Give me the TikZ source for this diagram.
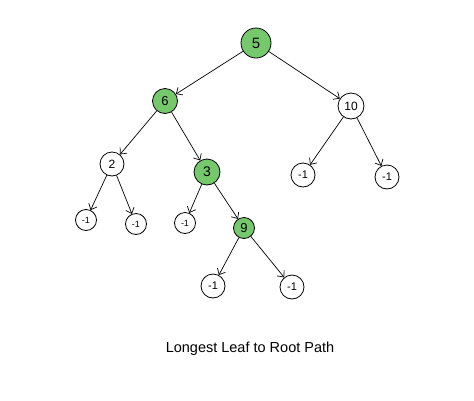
\documentclass[tikz,border=0pt]{standalone}
\usepackage{fontspec}
\setsansfont{Liberation Sans}
\usetikzlibrary{shapes,arrows.meta}
\definecolor{pathgreen}{RGB}{118,200,108}
\tikzset{%
	tnode/.style    	= {draw, circle, line width=0.8pt, inner sep=0pt, font=\sffamily\fontsize{12}{12}\selectfont}, % Tree node
	onpath/.style   	= {tnode, fill=pathgreen}, % Node of the longest path
	leaf/.style     	= {tnode, font=\sffamily\fontsize{11}{11}\selectfont}, % Empty child
	smallleaf/.style	= {tnode, minimum size=21pt, font=\sffamily\fontsize{9}{9}\selectfont} % Small empty child
}
\begin{document}
\begin{tikzpicture}[x=1pt, y=-1pt, line width=0.7pt, >={Straight Barb[length=5pt, width=9pt]}]
	\useasboundingbox (0,0) rectangle (474,400);
	\draw % Nodes of the tree :
	node at (256, 43) [onpath, minimum size=30pt, font=\sffamily\fontsize{15}{15}\selectfont] (root) {5}
	node at (165, 101) [onpath, minimum size=25pt, font=\sffamily\fontsize{13}{13}\selectfont] (six) {6}
	node at (351, 106) [tnode, minimum size=26pt] (ten) {10}
	node at (112, 164) [tnode, minimum size=24pt] (two) {2}
	node at (207, 172) [onpath, minimum size=26pt, font=\sffamily\fontsize{14}{14}\selectfont] (three) {3}
	node at (303, 175) [leaf, minimum size=24pt] (tenl) {-1}
	node at (387, 177) [leaf, minimum size=24pt] (tenr) {-1}
	node at (86, 220) [smallleaf] (twol) {-1}
	node at (136, 224) [smallleaf] (twor) {-1}
	node at (185, 223) [smallleaf] (threel) {-1}
	node at (244, 228) [onpath, minimum size=21pt, font=\sffamily\fontsize{13}{13}\selectfont] (nine) {9}
	node at (213, 286) [leaf, minimum size=24pt] (ninel) {-1}
	node at (292, 287) [leaf, minimum size=24pt] (niner) {-1}
	node at (250, 349) [font=\sffamily\fontsize{14.5}{17}\selectfont] (title) {Longest Leaf to Root Path}
	;

	% Edges from parent to child
	\draw[->] (root) -- (six);
	\draw[->] (root) -- (ten);
	\draw[->] (six) -- (two);
	\draw[->] (six) -- (three);
	\draw[->] (ten) -- (tenl);
	\draw[->] (ten) -- (tenr);
	\draw[->] (two) -- (twol);
	\draw[->] (two) -- (twor);
	\draw[->] (three) -- (threel);
	\draw[->] (three) -- (nine);
	\draw[->] (nine) -- (ninel);
	\draw[->] (nine) -- (niner);
\end{tikzpicture}
\end{document}
